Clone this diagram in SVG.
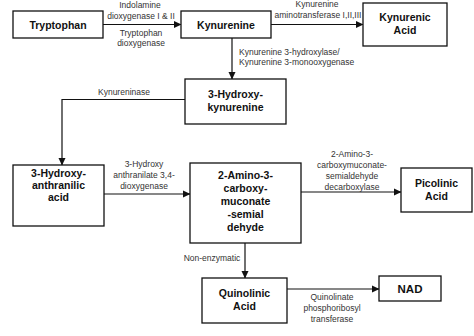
<svg xmlns="http://www.w3.org/2000/svg" width="474" height="336" viewBox="0 0 474 336">
<defs>
<marker id="ah" markerWidth="8" markerHeight="8" refX="7" refY="4" orient="auto" markerUnits="userSpaceOnUse">
<path d="M0,0.5 L7.5,4 L0,7.5 Z" fill="#111"/>
</marker>
</defs>
<style>
.box{fill:#fff;stroke:#111;stroke-width:1.3}
.nt{font-family:"Liberation Sans",Arial,sans-serif;font-weight:bold;font-size:10.5px;fill:#111;text-anchor:middle}
.lb{font-family:"Liberation Sans",Arial,sans-serif;font-size:8.5px;fill:#333;text-anchor:middle}
.ln{fill:none;stroke:#111;stroke-width:1.2}
</style>
<rect width="474" height="336" fill="#fff"/>
<g id="connectors">
<line class="ln" x1="103" y1="24.5" x2="181" y2="24.5" marker-end="url(#ah)"/>
<line class="ln" x1="271" y1="24.5" x2="363" y2="24.5" marker-end="url(#ah)"/>
<line class="ln" x1="232" y1="38" x2="232" y2="79" marker-end="url(#ah)"/>
<polyline class="ln" points="185,99.5 62,99.5 62,165" marker-end="url(#ah)"/>
<line class="ln" x1="104" y1="194" x2="190" y2="194" marker-end="url(#ah)"/>
<line class="ln" x1="301" y1="192" x2="401" y2="192" marker-end="url(#ah)"/>
<line class="ln" x1="245" y1="243" x2="245" y2="278" marker-end="url(#ah)"/>
<line class="ln" x1="287" y1="289" x2="379" y2="289" marker-end="url(#ah)"/>
<text class="lb" x="140" y="8">Indolamine</text>
<text class="lb" x="141" y="19">dioxygenase I &amp; II</text>
<text class="lb" x="141" y="36">Tryptophan</text>
<text class="lb" x="141" y="46">dioxygenase</text>
<text class="lb" x="317" y="7">Kynurenine</text>
<text class="lb" x="318" y="17.5">aminotransferase I,II,III</text>
<text class="lb" x="239" y="55" style="text-anchor:start">Kynurenine 3-hydroxylase/</text>
<text class="lb" x="239" y="65" style="text-anchor:start">Kynurenine 3-monooxygenase</text>
<text class="lb" x="124" y="95">Kynureninase</text>
<text class="lb" x="144" y="167">3-Hydroxy</text>
<text class="lb" x="144" y="178">anthranilate 3,4-</text>
<text class="lb" x="144" y="189">dioxygenase</text>
<text class="lb" x="352" y="157">2-Amino-3-</text>
<text class="lb" x="352" y="168">carboxymuconate-</text>
<text class="lb" x="352" y="179">semialdehyde</text>
<text class="lb" x="352" y="189.5">decarboxylase</text>
<text class="lb" x="212" y="261">Non-enzymatic</text>
<text class="lb" x="332" y="300">Quinolinate</text>
<text class="lb" x="332" y="311">phosphoribosyl</text>
<text class="lb" x="332" y="322">transferase</text>
</g>
<g id="tryptophan">
<rect class="box" x="13" y="11" width="90" height="27"/>
<text class="nt" x="58" y="28.5">Tryptophan</text>
</g>
<g id="kynurenine">
<rect class="box" x="181" y="11" width="90" height="27"/>
<text class="nt" x="226" y="28.5">Kynurenine</text>
</g>
<g id="kynurenic-acid">
<rect class="box" x="363" y="3" width="84" height="43"/>
<text class="nt" x="405" y="21">Kynurenic</text>
<text class="nt" x="405" y="34">Acid</text>
</g>
<g id="hydroxykynurenine">
<rect class="box" x="185" y="79" width="101" height="45"/>
<text class="nt" x="235.5" y="98">3-Hydroxy-</text>
<text class="nt" x="235.5" y="111">kynurenine</text>
</g>
<g id="hydroxyanthranilic">
<rect class="box" x="13" y="165" width="91" height="61"/>
<text class="nt" x="58.5" y="177">3-Hydroxy-</text>
<text class="nt" x="58.5" y="189">anthranilic</text>
<text class="nt" x="58.5" y="201">acid</text>
</g>
<g id="acms">
<rect class="box" x="190" y="163" width="111" height="80"/>
<text class="nt" x="245.5" y="179">2-Amino-3-</text>
<text class="nt" x="245.5" y="192">carboxy-</text>
<text class="nt" x="245.5" y="205">muconate</text>
<text class="nt" x="245.5" y="218">-semial</text>
<text class="nt" x="245.5" y="231">dehyde</text>
</g>
<g id="picolinic-acid">
<rect class="box" x="401" y="168" width="71" height="44"/>
<text class="nt" x="436.5" y="187">Picolinic</text>
<text class="nt" x="436.5" y="200">Acid</text>
</g>
<g id="quinolinic-acid">
<rect class="box" x="202" y="278" width="85" height="45"/>
<text class="nt" x="244.5" y="297">Quinolinic</text>
<text class="nt" x="244.5" y="310">Acid</text>
</g>
<g id="nad">
<rect class="box" x="379" y="276" width="62" height="25"/>
<text class="nt" x="410" y="292.5" style="font-size:11.5px">NAD</text>
</g>
</svg>
